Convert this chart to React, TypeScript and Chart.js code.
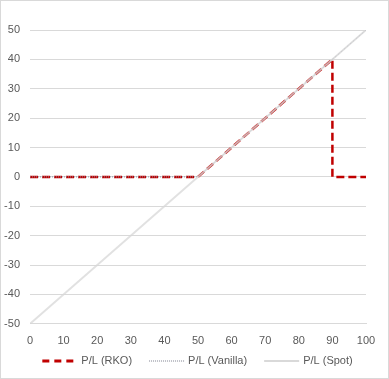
import React, { useEffect, useRef } from "react";
import { Chart, registerables } from "chart.js";
Chart.register(...registerables);

const rkoX = [0, 50, 90, 90, 100];
const rkoY = [0, 0, 40, 0, 0];
const vanillaX = [0, 50, 100];
const vanillaY = [0, 0, 50];
const spotX = [0, 100];
const spotY = [-50, 50];
const seriesNames = ["P/L (RKO)", "P/L (Vanilla)", "P/L (Spot)"];

const pts = (xs: number[], ys: number[]) => xs.map((x, i) => ({ x, y: ys[i] }));

const legendStyles = [
  { color: "#c00000", width: 3, dash: [7, 5] },
  { color: "#7f8190", width: 1, dash: [1, 1] },
  { color: "#d9d9d9", width: 2, dash: [] as number[] },
];

const legendPlugin = {
  id: "lineLegend",
  afterDraw(chart: any) {
    const ctx = chart.ctx as CanvasRenderingContext2D;
    ctx.save();
    ctx.font = "11px 'Liberation Sans'";
    ctx.textBaseline = "middle";
    const lineLen = 35;
    const gapText = 4;
    const gapItem = 17;
    const widths = seriesNames.map((t) => ctx.measureText(t).width);
    const total =
      widths.reduce((a, b) => a + b, 0) + seriesNames.length * (lineLen + gapText) + (seriesNames.length - 1) * gapItem;
    let x = chart.width / 2 + 3 - total / 2;
    const y = chart.height - 17;
    seriesNames.forEach((t, i) => {
      const st = legendStyles[i];
      ctx.beginPath();
      ctx.strokeStyle = st.color;
      ctx.lineWidth = st.width;
      ctx.setLineDash(st.dash);
      ctx.moveTo(x, y);
      ctx.lineTo(x + lineLen, y);
      ctx.stroke();
      ctx.setLineDash([]);
      x += lineLen + gapText;
      ctx.fillStyle = "#595959";
      ctx.fillText(t, x, y);
      x += widths[i] + gapItem;
    });
    ctx.restore();
  },
};

export default function App() {
  const ref = useRef<HTMLCanvasElement>(null);
  useEffect(() => {
    document.body.style.margin = "0";
    const chart = new Chart(ref.current!, {
      type: "scatter",
      data: {
        datasets: [
          {
            label: seriesNames[0],
            data: pts(rkoX, rkoY),
            showLine: true,
            borderColor: "#c00000",
            backgroundColor: "#c00000",
            borderWidth: 2.5,
            borderDash: [8, 4],
            pointRadius: 0,
            order: 3,
          },
          {
            label: seriesNames[1],
            data: pts(vanillaX, vanillaY),
            showLine: true,
            borderColor: "#8c8fa0",
            backgroundColor: "#8c8fa0",
            borderWidth: 1,
            borderDash: [1, 1],
            pointRadius: 0,
            order: 2,
          },
          {
            label: seriesNames[2],
            data: pts(spotX, spotY),
            showLine: true,
            borderColor: "rgba(215,215,215,0.75)",
            backgroundColor: "#d9d9d9",
            borderWidth: 2,
            pointRadius: 0,
            order: 1,
          },
        ],
      },
      plugins: [legendPlugin],
      options: {
        animation: false,
        responsive: true,
        maintainAspectRatio: false,
        layout: { padding: { top: 29, right: 22, left: 0, bottom: 27 } },
        scales: {
          x: {
            type: "linear",
            min: 0,
            max: 100,
            ticks: { stepSize: 10, color: "#595959", font: { family: "Liberation Sans", size: 11 } },
            grid: { display: false },
            border: { color: "#d9d9d9" },
          },
          y: {
            min: -50,
            max: 50,
            afterFit: (s: any) => {
              s.width = 29;
            },
            ticks: { stepSize: 10, padding: 10, color: "#595959", font: { family: "Liberation Sans", size: 11 } },
            grid: { color: "#d9d9d9", drawTicks: false },
            border: { display: false },
          },
        },
        plugins: {
          tooltip: { enabled: false },
          legend: { display: false },
        },
      },
    });
    return () => chart.destroy();
  }, []);
  return (
    <div style={{ width: 389, height: 379, border: "1px solid #d9d9d9", boxSizing: "border-box", position: "relative" }}>
      <canvas ref={ref} />
    </div>
  );
}
